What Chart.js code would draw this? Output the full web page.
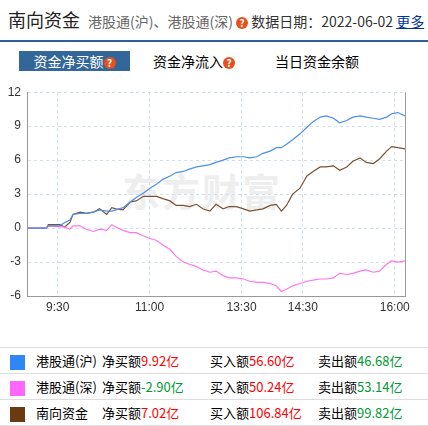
<!DOCTYPE html>
<html><head><meta charset="utf-8">
<script src="https://cdn.jsdelivr.net/npm/chart.js@4.4.0/dist/chart.umd.min.js"></script>
<style>
body{margin:0;width:428px;height:426px;background:#fff;font-family:"Microsoft YaHei","Noto Sans CJK SC",sans-serif;position:relative;overflow:hidden}
.hd{position:absolute;left:8px;top:6px;font-size:14px;color:#333;white-space:nowrap}
.hd b{font-weight:normal;font-size:18px;color:#222;margin-right:8px}
.hd .sub{color:#666}
.q{display:inline-block;width:12px;height:12px;border-radius:6px;background:#e8501c;color:#fff;font-size:10px;line-height:12px;text-align:center;font-weight:bold;vertical-align:middle}
.bar{position:absolute;left:0;top:40px;width:428px;height:2px;background:#2f5d96}
.tab{position:absolute;top:51px;height:20px;line-height:20px;font-size:14px;color:#000}
.tab.on{background:#336699;color:#fff;left:19px;width:111px;text-align:center}
.wm{position:absolute;left:122px;top:162px;font-size:38px;font-weight:bold;color:#eee;letter-spacing:2px}
#c{position:absolute;left:0;top:79px}
table{position:absolute;left:0;top:347px;width:428px;border-collapse:collapse;font-size:13px}
td{border-top:1px solid #ddd;border-bottom:1px solid #ddd;height:25px;padding:0;white-space:nowrap}
.sw{display:inline-block;width:15px;height:15px;vertical-align:middle;margin-left:10px}
.r{color:#f00}.g{color:#093}
</style></head><body>
<div class="hd"><b>南向资金</b><span class="sub">港股通(沪)、港股通(深)</span> <span class="q">?</span> 数据日期：2022-06-02 <a href="#" style="color:#039">更多</a></div>
<div class="bar"></div>
<div class="tab on">资金净买额<span class="q">?</span></div>
<div class="tab" style="left:153px">资金净流入<span class="q">?</span></div>
<div class="tab" style="left:275px">当日资金余额</div>
<div class="wm">东方财富</div>
<canvas id="c" width="428" height="245"></canvas>
<table id="leg"></table>
<script>
// minutes from 9:00 on the compressed axis (lunch removed)
const minutes = [0,19,21,32,37,42,45,52,58,65,71,78,83,87,94,101,107,114,120,127,133,140,146,153,159,166,172,179,185,192,198,205,212,218,225,231,238,244,249,254,260,267,274,280,287,293,300,306,313,319,326,332,339,345,352,357,363,370];
const shValues = [0,0,0.2,0.2,0.5,0.7,1.2,1.3,1.3,1.4,1.6,1.5,1.5,1.6,1.8,2.3,2.7,3.1,3.5,3.9,4.3,4.6,4.9,5.0,5.2,5.4,5.5,5.6,5.8,6.0,6.2,6.3,6.3,6.2,6.3,6.6,6.8,7.1,7.1,7.4,7.8,8.3,8.9,9.4,9.8,9.9,9.7,9.3,9.5,9.8,9.9,9.8,9.7,9.6,9.8,10.1,10.2,9.9];
const szValues = [0,0,0.2,0.1,0.1,-0.1,0.2,0.2,-0.1,-0.3,-0.1,-0.2,0.3,0.1,-0.2,-0.4,-0.4,-0.7,-0.9,-1.1,-1.5,-1.9,-2.5,-3.0,-3.2,-3.4,-3.7,-3.9,-3.8,-4.2,-4.4,-4.4,-4.5,-4.7,-4.8,-4.8,-4.9,-5.1,-5.6,-5.4,-5.1,-4.9,-4.7,-4.6,-4.5,-4.5,-4.4,-4.0,-4.1,-4.0,-3.8,-3.7,-3.9,-3.8,-3.2,-2.9,-3.0,-2.9];
const southValues = [0,0,0.3,0.3,0.1,0.5,1.2,1.4,1.3,1.4,1.7,1.2,1.8,1.7,1.6,2.3,2.4,2.8,2.8,2.8,2.6,2.4,2.0,2.0,1.9,2.1,1.7,1.5,2.1,1.7,1.9,1.9,1.7,1.5,1.6,1.7,2.0,2.1,1.5,2.0,3.0,3.5,4.6,5.0,5.4,5.4,5.5,5.1,5.4,5.9,6.2,5.8,5.7,6.1,6.8,7.2,7.1,7.0];
const tickMinutes = [30,120,210,270,360];
const tickLabels = ['9:30','11:00','13:30','14:30','16:00'];
const yTicks = [-6,-3,0,3,6,9,12];

const names = ['港股通(沪)','港股通(深)','南向资金'];
const colors = ['#2f86f6','#ff66ff','#6b3a10'];
const lineColors = ['#4a90f0','#ff77ee','#7a5230'];
const netBuy = ['9.92','-2.90','7.02'];
const buyAmt = ['56.60','50.24','106.84'];
const sellAmt = ['46.68','53.14','99.82'];

const series = [shValues, szValues, southValues];
new Chart(document.getElementById('c'), {
  type: 'line',
  data: {
    datasets: series.map((vals, i) => ({
      data: vals.map((v, k) => ({x: minutes[k], y: v})),
      borderColor: lineColors[i], borderWidth: 1.2, pointRadius: 0, tension: 0
    }))
  },
  options: {
    responsive: false, animation: false,
    layout: {padding: {top: 13, right: 23, left: 0, bottom: 0}},
    plugins: {legend: {display: false}, tooltip: {enabled: false}},
    scales: {
      x: {
        type: 'linear', min: 0, max: 370,
        afterBuildTicks: ax => { ax.ticks = tickMinutes.map(v => ({value: v})); },
        ticks: {callback: (v) => tickLabels[tickMinutes.indexOf(v)], color: '#333', font: {size: 12}, maxRotation: 0, padding: 4},
        grid: {color: '#cfe0ef', drawTicks: false},
        afterFit: ax => { ax.height = 28; },
        border: {color: '#999', dash: [3, 3]}
      },
      y: {
        min: -6, max: 12,
        afterBuildTicks: ax => { ax.ticks = yTicks.map(v => ({value: v})); },
        afterFit: ax => { ax.width = 27; },
        ticks: {color: '#333', font: {size: 12}, padding: 6},
        grid: {color: '#cfe0ef', drawTicks: false},
        border: {color: '#999', dash: [3, 3]}
      }
    }
  },
  plugins: [{
    id: 'frame',
    afterDraw(chart) {
      const {ctx, chartArea: a} = chart;
      ctx.save(); ctx.strokeStyle = '#999'; ctx.lineWidth = 1;
      ctx.beginPath();
      ctx.moveTo(a.left + 0.5, a.top); ctx.lineTo(a.left + 0.5, a.bottom + 0.5);
      ctx.lineTo(a.right + 0.5, a.bottom + 0.5); ctx.lineTo(a.right + 0.5, a.top);
      ctx.stroke(); ctx.restore();
    }
  }]
});

const leg = document.getElementById('leg');
names.forEach((n, i) => {
  const cls = v => (parseFloat(v) < 0 ? 'g' : 'r');
  leg.insertAdjacentHTML('beforeend',
    `<tr><td style="width:36px"><span class="sw" style="background:${colors[i]}"></span></td>` +
    `<td style="width:66px">${n}</td><td style="width:108px">净买额<span class="${cls(netBuy[i])}">${netBuy[i]}亿</span></td>` +
    `<td style="width:108px">买入额<span class="r">${buyAmt[i]}亿</span></td>` +
    `<td>卖出额<span class="g">${sellAmt[i]}亿</span></td></tr>`);
});
</script>
</body></html>
